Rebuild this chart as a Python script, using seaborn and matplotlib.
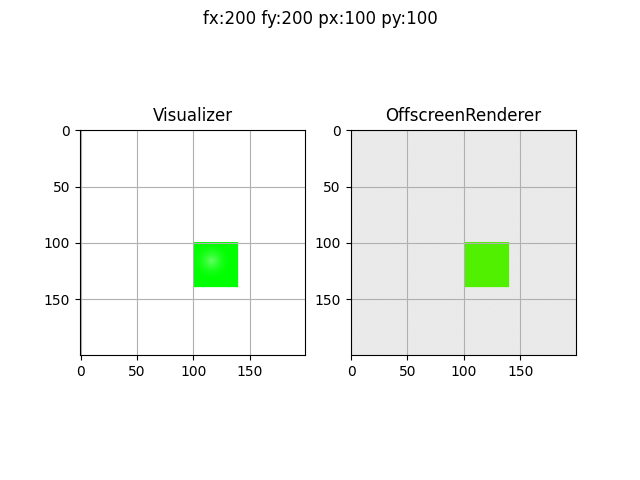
import numpy as np
import matplotlib
matplotlib.use("Agg")
import matplotlib.pyplot as plt
import seaborn as sns

width = 200
height = 200
square_x = [100, 140]
square_y = [100, 140]
highlight_center = [116, 116]
vis_bg = [255, 255, 255]
vis_color = [0, 255, 0]
off_bg = [234, 234, 234]
off_color = [80, 240, 0]
titles = ["Visualizer", "OffscreenRenderer"]
suptitle = "fx:200 fy:200 px:100 py:100"

def make_img(bg, col, highlight):
    img = np.zeros((height, width, 3), dtype=float)
    img[:] = np.array(bg) / 255
    img[square_y[0]:square_y[1], square_x[0]:square_x[1]] = np.array(col) / 255
    if highlight:
        yy, xx = np.mgrid[square_y[0]:square_y[1], square_x[0]:square_x[1]]
        d = np.hypot(xx - highlight_center[0], yy - highlight_center[1])
        w = np.clip(1 - d / 18, 0, 1) ** 2 * 0.5
        patch = img[square_y[0]:square_y[1], square_x[0]:square_x[1]]
        patch[..., 0] = w * 0.8
        patch[..., 2] = w * 0.8
    return img

imgs = [make_img(vis_bg, vis_color, True), make_img(off_bg, off_color, False)]

fig, axes = plt.subplots(1, 2, figsize=(6.4, 4.8), dpi=100)
for ax, img, t in zip(axes, imgs, titles):
    ax.imshow(img)
    ax.set_title(t)
    ax.grid(True)
    ax.set_xticks([0, 50, 100, 150])
    ax.set_yticks([0, 50, 100, 150])
fig.suptitle(suptitle)
fig.savefig("out.png")
